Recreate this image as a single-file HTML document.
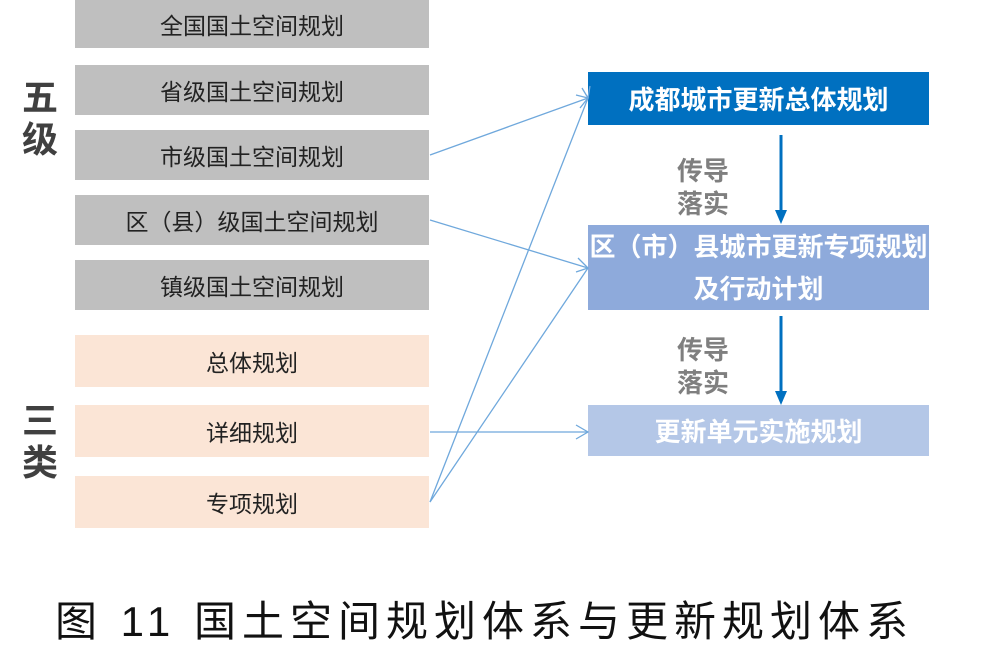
<!DOCTYPE html>
<html><head><meta charset="utf-8"><style>
body{margin:0;width:1000px;height:656px;background:#fff;position:relative;overflow:hidden;font-family:"Liberation Sans","Noto Sans CJK SC",sans-serif}
.b{position:absolute;left:75px;width:354px;display:flex;align-items:center;justify-content:center;font-size:23px;color:#222}
.g{background:#bfbfbf}.p{background:#fbe5d6}
.r{position:absolute;left:588px;width:341px;display:flex;align-items:center;justify-content:center;text-align:center;color:#fff;font-weight:bold;font-size:26px;white-space:nowrap}
.t{position:absolute;font-weight:bold;color:#404040;font-size:36px;line-height:42px}
.c{position:absolute;font-weight:bold;color:#7f7f7f;font-size:26px;line-height:33px;left:677px}
</style></head><body>
<div class="b g" style="top:0;height:48px">全国国土空间规划</div>
<div class="b g" style="top:65px;height:50px">省级国土空间规划</div>
<div class="b g" style="top:130px;height:50px">市级国土空间规划</div>
<div class="b g" style="top:195px;height:50px">区（县）级国土空间规划</div>
<div class="b g" style="top:260px;height:50px">镇级国土空间规划</div>
<div class="b p" style="top:335px;height:52px">总体规划</div>
<div class="b p" style="top:405px;height:52px">详细规划</div>
<div class="b p" style="top:476px;height:52px">专项规划</div>
<div class="t" style="left:22px;top:77px">五<br>级</div>
<div class="t" style="left:22px;top:400px">三<br>类</div>
<div class="r" style="top:72px;height:53px;background:#0070c0">成都城市更新总体规划</div>
<div class="r" style="top:225px;height:85px;background:#8eaadb;line-height:42px">区（市）县城市更新专项规划<br>及行动计划</div>
<div class="r" style="top:405px;height:51px;background:#b4c7e7">更新单元实施规划</div>
<div class="c" style="top:155px">传导<br>落实</div>
<div class="c" style="top:334px">传导<br>落实</div>
<svg width="1000" height="656" style="position:absolute;left:0;top:0">
<g stroke="#6fa8dc" stroke-width="1.3" fill="none">
<line x1="430" y1="155" x2="588" y2="98"/>
<line x1="430" y1="220" x2="588" y2="268"/>
<line x1="430" y1="432" x2="588" y2="432"/>
<line x1="430" y1="502" x2="588" y2="98"/>
<line x1="430" y1="502" x2="588" y2="268"/>
<polyline points="576,95 588,98 580,108"/>
<polyline points="578,258 588,268 576,272"/>
<polyline points="576,425 588,432 576,439"/>
<polyline points="582,88 588,98 590,86"/>
</g>
<g stroke="#0070c0" stroke-width="3" fill="#0070c0">
<line x1="781" y1="135" x2="781" y2="212"/>
<line x1="781" y1="316" x2="781" y2="393"/>
<polygon points="775,210 787,210 781,224" stroke="none"/>
<polygon points="775,391 787,391 781,405" stroke="none"/>
</g>
</svg>
<div style="position:absolute;left:55px;top:588px;font-size:42px;color:#111;letter-spacing:6px;white-space:nowrap">图 11 国土空间规划体系与更新规划体系</div>
</body></html>
